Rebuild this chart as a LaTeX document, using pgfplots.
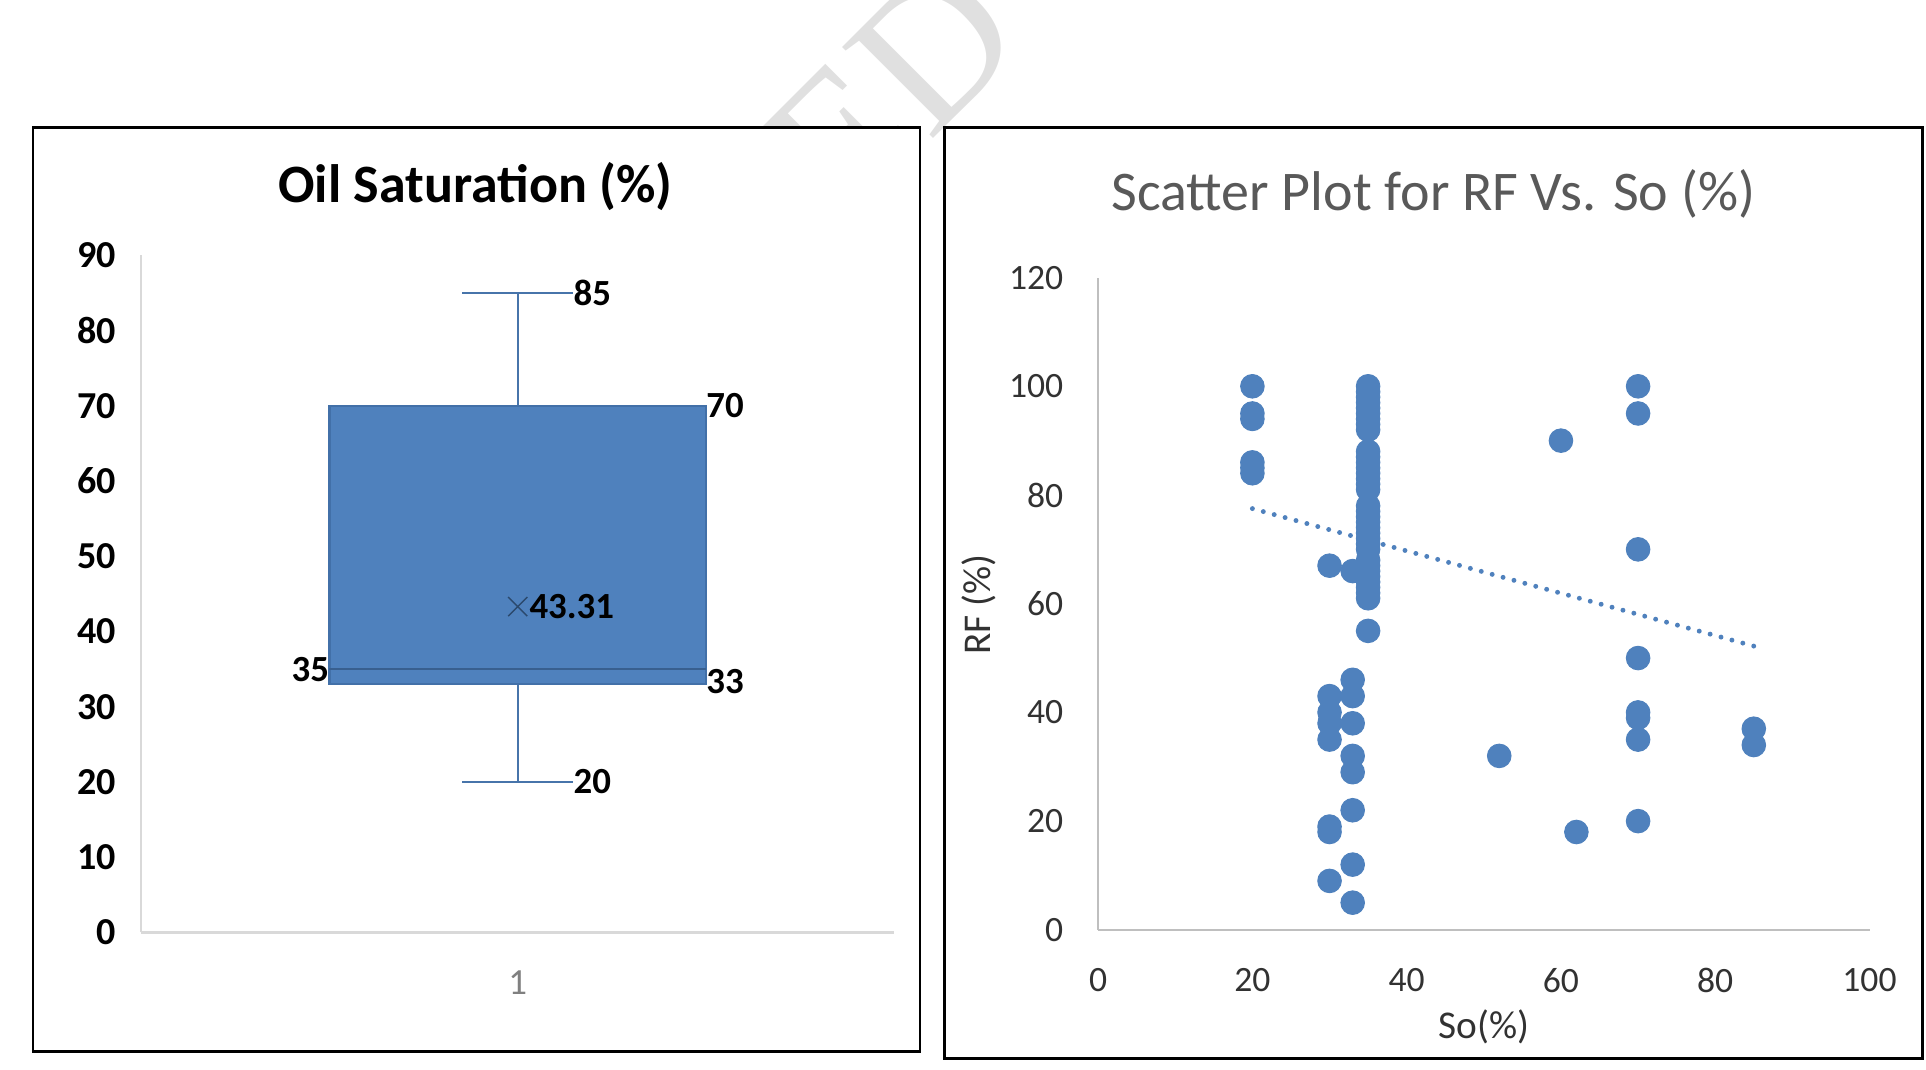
\documentclass[border=0pt]{standalone}
\usepackage{fontspec}
\setmainfont{Carlito}
\newfontfamily\wmfont{Liberation Serif}
\usepackage{pgfplots}
\pgfplotsset{compat=1.18}
\usepgfplotslibrary{statistics}
\definecolor{xlblue}{RGB}{79,129,189}
\definecolor{boxedge}{RGB}{66,112,168}
\definecolor{axgrayL}{RGB}{217,217,217}
\definecolor{axgrayR}{RGB}{191,191,191}
\definecolor{tgray}{RGB}{89,89,89}
\definecolor{ticktxt}{RGB}{50,50,50}

\pgfplotstableread{
x y
20 100
20 95
20 94
20 86
20 85
20 84
30 67
30 43
30 40
30 38
30 35
30 19
30 18
30 9
33 66
33 46
33 43
33 38
33 32
33 29
33 22
33 12
33 5
35 100
35 99
35 98
35 97
35 96
35 95
35 94
35 93
35 92
35 88
35 87
35 86
35 85
35 84
35 83
35 82
35 81
35 78
35 77
35 76
35 75
35 74
35 73
35 72
35 71
35 70
35 68
35 67
35 66
35 65
35 64
35 63
35 62
35 61
35 55
52 32
60 90
62 18
70 100
70 95
70 70
70 50
70 40
70 39
70 35
70 20
85 37
85 34
}\scatterdata

\begin{document}
\begin{tikzpicture}
\path (0pt,0pt) rectangle (784pt,435.5pt);
% watermark fragment
\node[overlay, rotate=45, anchor=east, text=black!12, font=\wmfont\fontsize{80}{80}\selectfont, inner sep=0pt] at (401pt,437pt) {ED};
% frames
\draw[line width=1pt, fill=white] (13.5pt,7.5pt) rectangle (374.5pt,383.5pt);
\draw[line width=1.3pt, fill=white] (384.5pt,4.5pt) rectangle (782.5pt,383.5pt);

% ---------- Box plot ----------
\begin{axis}[at={(57.5pt,56pt)}, anchor=south west, scale only axis,
  width=306.5pt, height=275.5pt,
  xmin=0, xmax=2, ymin=0, ymax=90,
  axis lines*=left,
  axis line style={axgrayL, line width=1pt},
  xtick={1}, ytick={0,10,...,90},
  major tick length=0pt,
  /pgf/number format/assume math mode=true,
  yticklabel style={font=\fontsize{15.5}{15.5}\selectfont\bfseries, text=black, anchor=east, inner sep=0pt, xshift=-10pt},
  xticklabel style={font=\fontsize{15}{15}\selectfont, text=gray, anchor=north, inner sep=0pt, yshift=-15.5pt},
  clip=false]
\addplot[fill=xlblue, draw=boxedge, line width=0.9pt,
  boxplot/draw direction=y,
  boxplot prepared={lower whisker=20, lower quartile=33, median=35,
    upper quartile=70, upper whisker=85, draw position=1,
    box extend=1, whisker extend=0.294},
  boxplot/every median/.style={draw=boxedge!85!black, line width=0.9pt},
  boxplot/every whisker/.style={draw=xlblue!90!black, line width=0.9pt}]
  coordinates {};
\addplot[only marks, mark=x, mark size=5.5pt, mark options={draw=boxedge!65!black, line width=0.6pt}] coordinates {(1,43.31)};
\begin{scope}[font=\fontsize{15}{15}\selectfont\bfseries, inner sep=0pt]
\node[anchor=west] at (axis cs:1.147,85) {85};
\node[anchor=west] at (axis cs:1.147,20) {20};
\node[anchor=west] at (axis cs:1.5,70) {70};
\node[anchor=north west] at (axis cs:1.5,35) {33};
\node[anchor=east] at (axis cs:0.5,35) {35};
\node[anchor=west] at (axis cs:1.03,43.31) {43.31};
\end{scope}
\end{axis}

% ---------- Scatter ----------
\begin{axis}[at={(447pt,57pt)}, anchor=south west, scale only axis,
  width=314pt, height=265.5pt,
  xmin=0, xmax=100, ymin=0, ymax=120,
  axis lines*=left,
  axis line style={axgrayR, line width=1pt},
  xtick={0,20,...,100}, ytick={0,20,...,120},
  major tick length=0pt,
  /pgf/number format/assume math mode=true,
  yticklabel style={font=\fontsize{14.5}{14.5}\selectfont, text=ticktxt, anchor=east, inner sep=0pt, xshift=-14pt},
  xticklabel style={font=\fontsize{14.5}{14.5}\selectfont, text=ticktxt, anchor=north, inner sep=0pt, yshift=-15.5pt},
  clip=false]
\addplot[only marks, mark=*, mark size=4.8pt, mark options={fill=xlblue, draw=xlblue}] table[x=x, y=y] {\scatterdata};
\addplot[xlblue, line width=2pt, dash pattern=on 0pt off 4.6pt, line cap=round] coordinates {(20,77.5) (85,52.2)};
\end{axis}

% titles and labels
\node[font=\fontsize{22}{22}\selectfont\bfseries, inner sep=0pt] at (193.5pt,359.5pt) {Oil Saturation (\%)};
\node[font=\fontsize{22.8}{22.8}\selectfont, text=tgray, inner sep=0pt] at (583.5pt,356.5pt) {Scatter Plot for RF Vs. So (\%)};
\node[font=\fontsize{16}{16}\selectfont, text=ticktxt, inner sep=0pt] at (604pt,17.5pt) {So(\%)};
\node[font=\fontsize{16}{16}\selectfont, text=ticktxt, inner sep=0pt, rotate=90] at (398.5pt,189.5pt) {RF (\%)};
\end{tikzpicture}
\end{document}
